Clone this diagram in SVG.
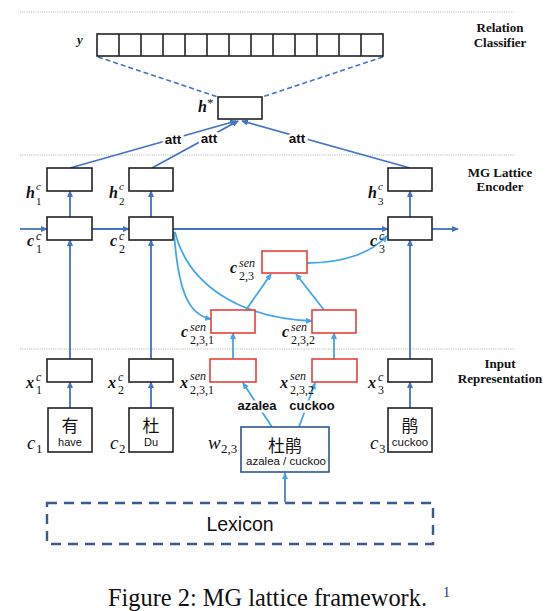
<svg xmlns="http://www.w3.org/2000/svg" width="555" height="611" viewBox="0 0 555 611">
<style>
.sep{stroke:#b0b0b0;stroke-width:1;stroke-dasharray:1,1.2;fill:none}
.bx{fill:#fff;stroke:#222;stroke-width:1.6}
.rb{fill:#fff;stroke:#e8403a;stroke-width:1.6}
.bl{stroke:#4472c4;stroke-width:1.8;fill:none}
.lb{stroke:#41a6ec;stroke-width:1.8;fill:none}
.m{font-family:"Liberation Serif",serif;font-weight:bold;font-style:italic;font-size:16px;fill:#111}
.ms{font-family:"Liberation Serif",serif;font-style:italic;font-size:12px;fill:#111}
.mn{font-family:"Liberation Serif",serif;font-size:12px;fill:#111}
.mi{font-family:"Liberation Serif",serif;font-style:italic;font-size:19px;fill:#111}
.ttl{font-family:"Liberation Serif",serif;font-weight:bold;font-size:13px;fill:#111;text-anchor:middle}
.lab{font-family:"Liberation Sans",Arial,sans-serif;font-weight:bold;font-size:13.5px;fill:#111;text-anchor:middle;paint-order:stroke;stroke:#fff;stroke-width:5px}
.zh{font-family:"Noto Sans CJK SC","Liberation Sans",sans-serif;font-size:17px;fill:#111;text-anchor:middle}
.en{font-family:"Liberation Sans",Arial,sans-serif;font-size:11px;fill:#111;text-anchor:middle}
</style>
<defs>
<marker id="ab" markerWidth="7" markerHeight="6" refX="6" refY="3" orient="auto" markerUnits="userSpaceOnUse"><path d="M0,0 L7,3 L0,6 z" fill="#4472c4"/></marker>
<marker id="al" markerWidth="7" markerHeight="6" refX="6" refY="3" orient="auto" markerUnits="userSpaceOnUse"><path d="M0,0 L7,3 L0,6 z" fill="#41a6ec"/></marker>
</defs>

<!-- separators -->
<g id="separators">
<line class="sep" x1="20" y1="12" x2="515" y2="12"/>
<line class="sep" x1="20" y1="155" x2="515" y2="155"/>
<line class="sep" x1="20" y1="349" x2="515" y2="349"/>
</g>

<!-- section titles -->
<g id="titles">
<text class="ttl" x="500" y="32">Relation</text>
<text class="ttl" x="500" y="47">Classifier</text>
<text class="ttl" x="500" y="177">MG Lattice</text>
<text class="ttl" x="500" y="191">Encoder</text>
<text class="ttl" x="500" y="368">Input</text>
<text class="ttl" x="500" y="383">Representation</text>
</g>

<!-- connectors -->
<g id="connectors">
<line x1="98" y1="57" x2="218" y2="97" stroke="#4472c4" stroke-width="1.6" stroke-dasharray="5,3"/>
<line x1="383" y1="57" x2="262" y2="97" stroke="#4472c4" stroke-width="1.6" stroke-dasharray="5,3"/>
<line class="bl" x1="70" y1="168" x2="236" y2="121" marker-end="url(#ab)"/>
<line class="bl" x1="152" y1="168" x2="238" y2="121" marker-end="url(#ab)"/>
<line class="bl" x1="410" y1="168" x2="242" y2="121" marker-end="url(#ab)"/>
<!-- horizontal lattice chain -->
<line class="bl" x1="20" y1="229" x2="47" y2="229" marker-end="url(#ab)"/>
<line class="bl" x1="92" y1="229" x2="129" y2="229" marker-end="url(#ab)"/>
<line class="bl" x1="173" y1="229" x2="388" y2="229" marker-end="url(#ab)"/>
<line class="bl" x1="432" y1="229" x2="458" y2="229" marker-end="url(#ab)"/>
<!-- c to h -->
<line class="bl" x1="70" y1="217" x2="70" y2="191" marker-end="url(#ab)"/>
<line class="bl" x1="151" y1="217" x2="151" y2="191" marker-end="url(#ab)"/>
<line class="bl" x1="410" y1="217" x2="410" y2="191" marker-end="url(#ab)"/>
<!-- x to c -->
<line class="bl" x1="70" y1="359" x2="70" y2="240" marker-end="url(#ab)"/>
<line class="bl" x1="151" y1="359" x2="151" y2="240" marker-end="url(#ab)"/>
<line class="bl" x1="410" y1="359" x2="410" y2="240" marker-end="url(#ab)"/>
<!-- char to x -->
<line class="bl" x1="70" y1="408" x2="70" y2="382" marker-end="url(#ab)"/>
<line class="bl" x1="151" y1="408" x2="151" y2="382" marker-end="url(#ab)"/>
<line class="bl" x1="410" y1="408" x2="410" y2="382" marker-end="url(#ab)"/>
<!-- lexicon to word -->
<line x1="285" y1="502" x2="285" y2="473" stroke="#3d85c6" stroke-width="1.8" marker-end="url(#al)"/>
<!-- word to sense inputs -->
<line class="lb" x1="272" y1="427" x2="243" y2="383" marker-end="url(#al)"/>
<line class="lb" x1="299" y1="427" x2="315" y2="383" marker-end="url(#al)"/>
<!-- sense x to sense c -->
<line class="lb" x1="233" y1="359" x2="233" y2="333" marker-end="url(#al)"/>
<line class="lb" x1="334" y1="359" x2="334" y2="333" marker-end="url(#al)"/>
<!-- sense cells to merged -->
<line class="lb" x1="246" y1="310" x2="271" y2="274" marker-end="url(#al)"/>
<line class="lb" x1="324" y1="310" x2="296" y2="274" marker-end="url(#al)"/>
<!-- curves -->
<path class="lb" d="M174,232 C178,290 188,315 211,319" marker-end="url(#al)"/>
<path class="lb" d="M175,232 C188,285 240,318 312,321" marker-end="url(#al)"/>
<path class="lb" d="M307,263 C345,263 372,252 387,236" marker-end="url(#al)"/>
</g>

<!-- att labels -->
<g id="att-labels">
<text class="lab" x="173" y="144">att</text>
<text class="lab" x="209" y="143">att</text>
<text class="lab" x="297" y="143">att</text>
</g>

<!-- output y -->
<g id="node-y">
<rect class="bx" x="97" y="34" width="286" height="22"/>
<g stroke="#222" stroke-width="1.6">
<line x1="119" y1="34" x2="119" y2="56"/><line x1="141" y1="34" x2="141" y2="56"/><line x1="163" y1="34" x2="163" y2="56"/>
<line x1="185" y1="34" x2="185" y2="56"/><line x1="207" y1="34" x2="207" y2="56"/><line x1="229" y1="34" x2="229" y2="56"/>
<line x1="251" y1="34" x2="251" y2="56"/><line x1="273" y1="34" x2="273" y2="56"/><line x1="295" y1="34" x2="295" y2="56"/>
<line x1="317" y1="34" x2="317" y2="56"/><line x1="339" y1="34" x2="339" y2="56"/><line x1="361" y1="34" x2="361" y2="56"/>
</g>
<text class="m" x="77" y="44" style="font-size:13px">y</text>
</g>

<g id="node-hstar">
<rect class="bx" x="218" y="97" width="44" height="22"/>
<text class="m" x="198" y="112">h</text><text class="mn" x="207" y="107" style="font-size:13px">*</text>
</g>

<!-- encoder h -->
<g id="node-h1">
<rect class="bx" x="47" y="168" width="45" height="23"/>
<text class="m" x="26" y="198">h</text><text class="ms" x="36" y="190" style="font-size:11px">c</text><text class="mn" x="36" y="205" style="font-size:11px">1</text>
</g>
<g id="node-h2">
<rect class="bx" x="129" y="168" width="44" height="23"/>
<text class="m" x="109" y="198">h</text><text class="ms" x="119" y="190" style="font-size:11px">c</text><text class="mn" x="119" y="205" style="font-size:11px">2</text>
</g>
<g id="node-h3">
<rect class="bx" x="388" y="168" width="44" height="23"/>
<text class="m" x="368" y="198">h</text><text class="ms" x="378" y="190" style="font-size:11px">c</text><text class="mn" x="378" y="205" style="font-size:11px">3</text>
</g>

<!-- encoder c -->
<g id="node-c1">
<rect class="bx" x="47" y="217" width="45" height="23"/>
<text class="m" x="27" y="246">c</text><text class="ms" x="36" y="240">c</text><text class="mn" x="36" y="253">1</text>
</g>
<g id="node-c2">
<rect class="bx" x="129" y="217" width="44" height="23"/>
<text class="m" x="110" y="246">c</text><text class="ms" x="119" y="240">c</text><text class="mn" x="119" y="253">2</text>
</g>
<g id="node-c3">
<rect class="bx" x="388" y="217" width="44" height="23"/>
<text class="m" x="370" y="246">c</text><text class="ms" x="379" y="240">c</text><text class="mn" x="379" y="253">3</text>
</g>

<!-- sense cells -->
<g id="node-csen23">
<rect class="rb" x="262" y="251" width="45" height="22"/>
<text class="m" x="230" y="273">c</text><text class="ms" x="239" y="267">sen</text><text class="mn" x="239" y="280">2,3</text>
</g>
<g id="node-csen231">
<rect class="rb" x="211" y="310" width="44" height="23"/>
<text class="m" x="181" y="337">c</text><text class="ms" x="190" y="331">sen</text><text class="mn" x="190" y="344">2,3,1</text>
</g>
<g id="node-csen232">
<rect class="rb" x="312" y="310" width="44" height="23"/>
<text class="m" x="282" y="337">c</text><text class="ms" x="291" y="331">sen</text><text class="mn" x="291" y="344">2,3,2</text>
</g>

<!-- input x -->
<g id="node-x1">
<rect class="bx" x="47" y="359" width="45" height="23"/>
<text class="m" x="26" y="388">x</text><text class="ms" x="36" y="381">c</text><text class="mn" x="36" y="394">1</text>
</g>
<g id="node-x2">
<rect class="bx" x="129" y="359" width="44" height="23"/>
<text class="m" x="108" y="388">x</text><text class="ms" x="118" y="381">c</text><text class="mn" x="118" y="394">2</text>
</g>
<g id="node-xsen231">
<rect class="rb" x="210" y="359" width="46" height="23"/>
<text class="m" x="180" y="388">x</text><text class="ms" x="190" y="380">sen</text><text class="mn" x="190" y="394">2,3,1</text>
</g>
<g id="node-xsen232">
<rect class="rb" x="312" y="359" width="45" height="23"/>
<text class="m" x="280" y="388">x</text><text class="ms" x="290" y="380">sen</text><text class="mn" x="290" y="394">2,3,2</text>
</g>
<g id="node-x3">
<rect class="bx" x="388" y="359" width="44" height="23"/>
<text class="m" x="368" y="388">x</text><text class="ms" x="378" y="381">c</text><text class="mn" x="378" y="394">3</text>
</g>

<!-- sense labels -->
<g id="sense-labels">
<text class="lab" x="257" y="410" style="font-size:13px">azalea</text>
<text class="lab" x="312" y="410" style="font-size:13px">cuckoo</text>
</g>

<!-- characters -->
<g id="node-char1">
<rect class="bx" x="48" y="408" width="44" height="44"/>
<text class="zh" x="70" y="432">有</text><text class="en" x="70" y="446">have</text>
<text class="mi" x="27" y="449">c</text><text class="mn" x="36" y="453" style="font-size:13px">1</text>
</g>
<g id="node-char2">
<rect class="bx" x="129" y="408" width="44" height="44"/>
<text class="zh" x="151" y="432">杜</text><text class="en" x="151" y="446">Du</text>
<text class="mi" x="110" y="449">c</text><text class="mn" x="119" y="453" style="font-size:13px">2</text>
</g>
<g id="node-char3">
<rect class="bx" x="388" y="408" width="44" height="44"/>
<text class="zh" x="410" y="432">鹃</text><text class="en" x="410" y="446" style="font-size:11.5px">cuckoo</text>
<text class="mi" x="370" y="449">c</text><text class="mn" x="379" y="453" style="font-size:13px">3</text>
</g>
<g id="node-word">
<rect x="241" y="427" width="88" height="45" fill="#fff" stroke="#2f5597" stroke-width="1.6"/>
<text class="zh" x="285" y="452">杜鹃</text><text class="en" x="286" y="465" style="font-size:11.5px">azalea / cuckoo</text>
<text class="mi" x="208" y="449">w</text><text class="mn" x="221" y="453" style="font-size:13px">2,3</text>
</g>

<g id="node-lexicon">
<rect x="47" y="503" width="386" height="41" fill="none" stroke="#3b5a8f" stroke-width="2.4" stroke-dasharray="10,7"/>
<text x="240" y="531" font-family="Liberation Sans, Arial, sans-serif" font-size="19.5" fill="#111" text-anchor="middle">Lexicon</text>
</g>

<g id="caption">
<text x="108" y="606" font-family="Liberation Serif, serif" font-size="24.4" fill="#111">Figure 2: MG lattice framework.</text>
<text x="443" y="597" font-family="Liberation Serif, serif" font-size="14" fill="#1a2aa8">1</text>
</g>
</svg>
